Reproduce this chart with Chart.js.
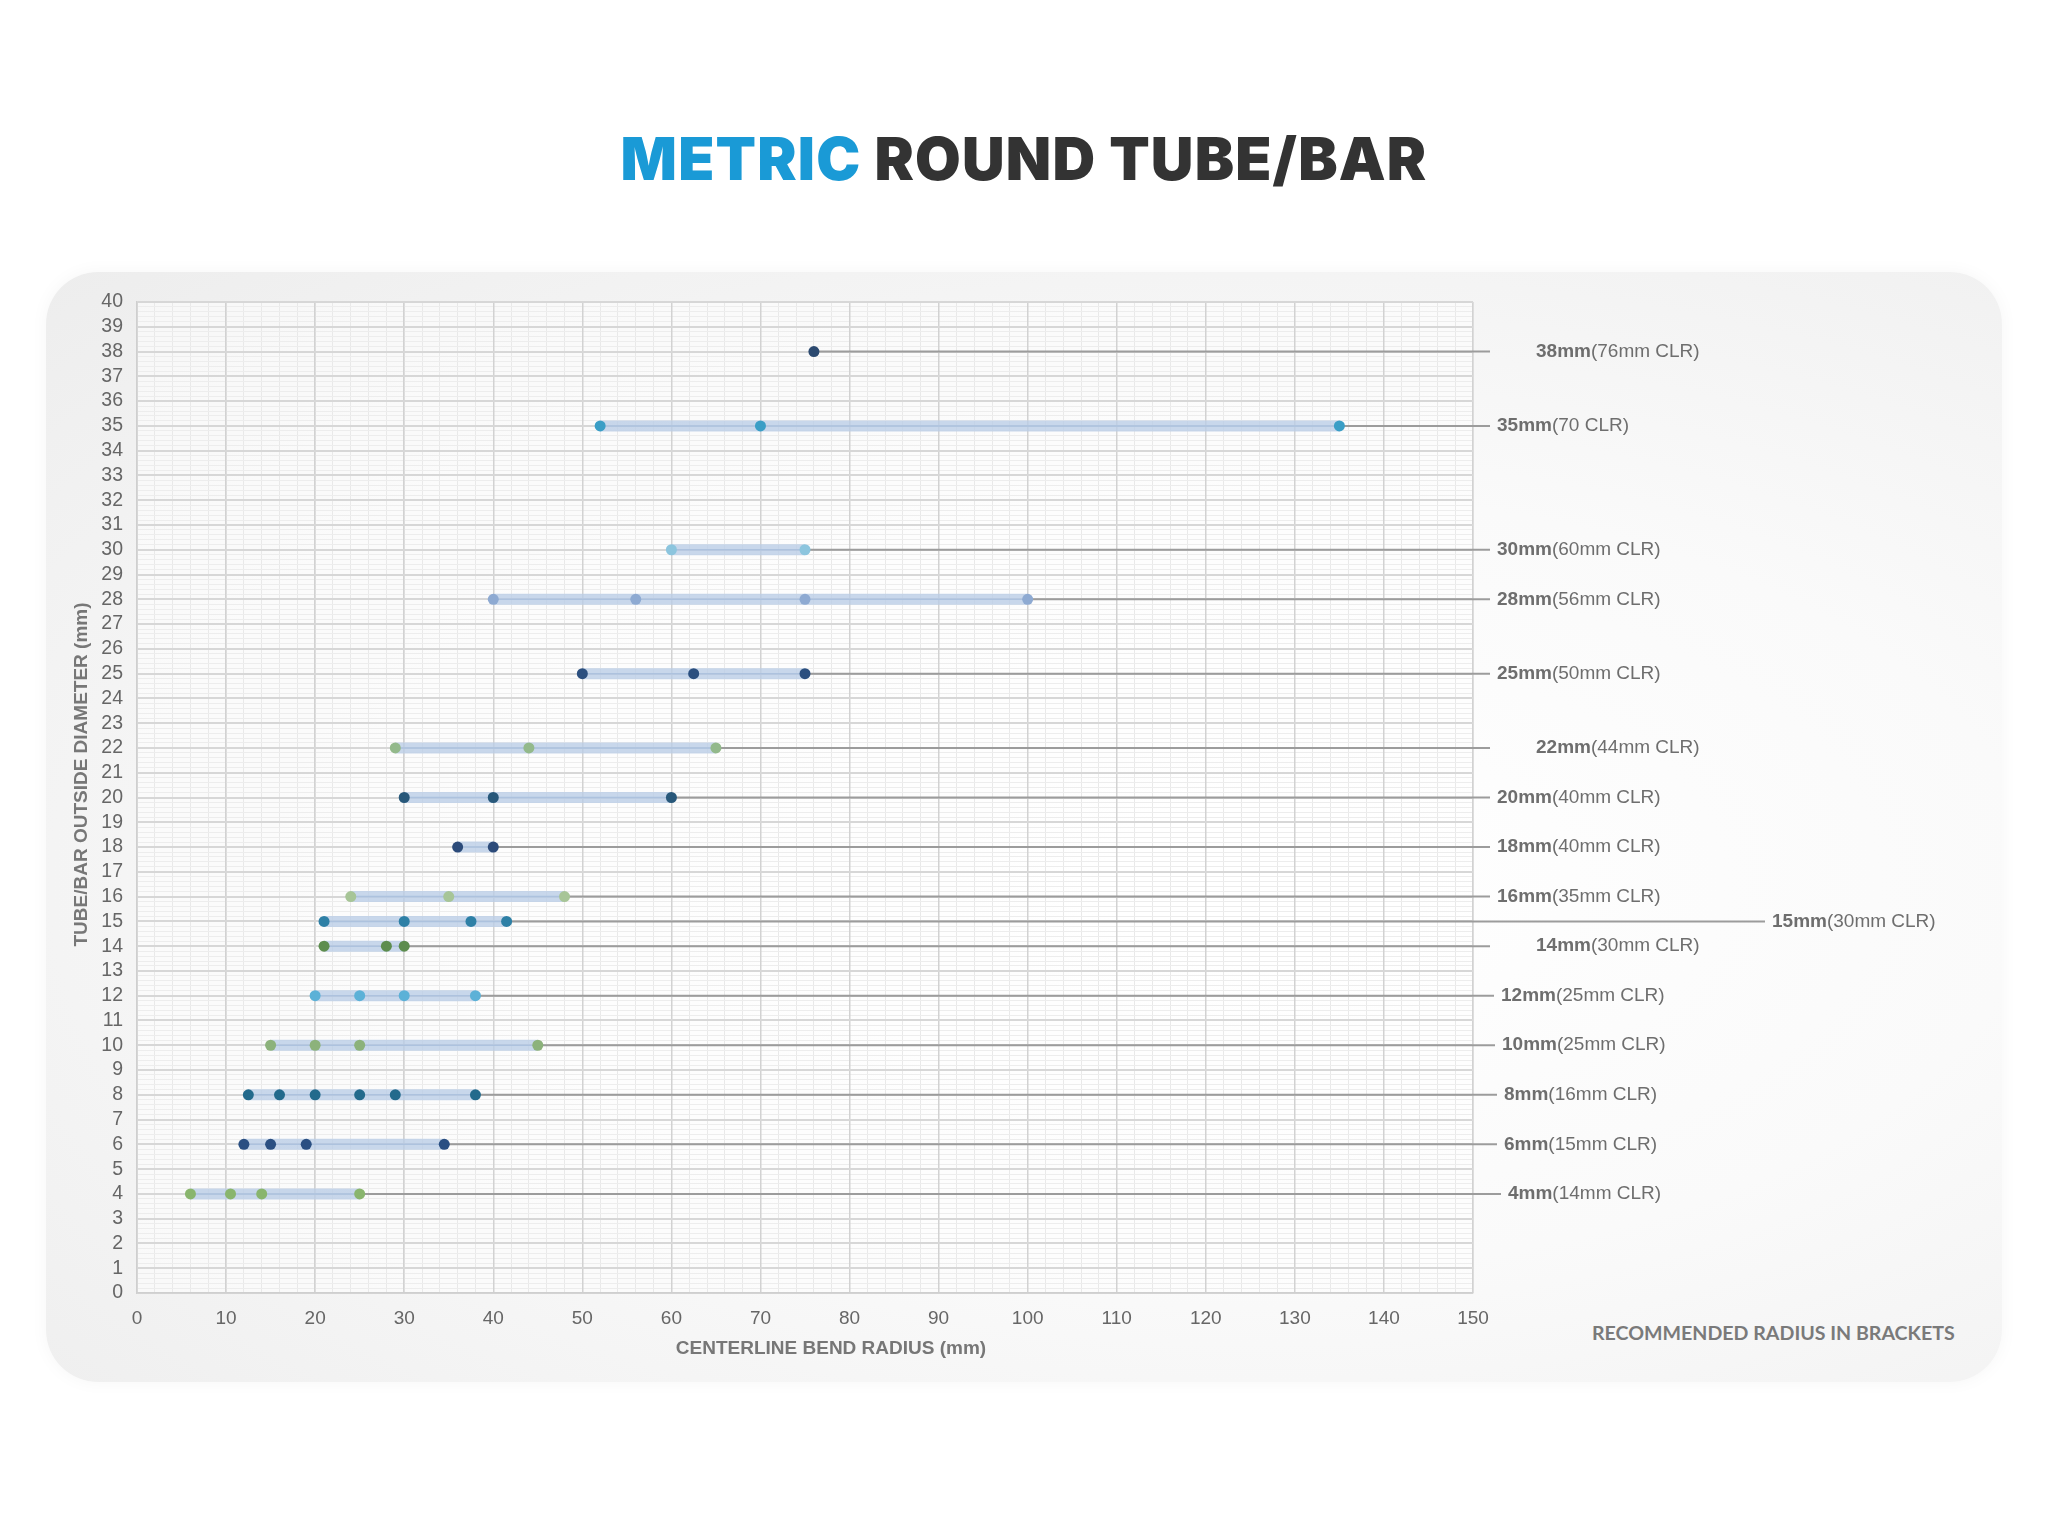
<!DOCTYPE html>
<html lang="en">
<head>
    <meta charset="UTF-8">
    <title>Metric Round Tube/Bar</title>
    <script src="https://cdn.jsdelivr.net/npm/chart.js"></script>
    <style>
        body { margin: 0; background: #fff; }
        #wrap { position: relative; width: 2048px; height: 1536px; overflow: hidden; }
        #panel {
            position: absolute; left: 46px; top: 272px; width: 1956px; height: 1110px;
            border-radius: 52px;
            background: radial-gradient(ellipse at 62% 55%, #ffffff 0%, #fafafa 45%, #ededed 100%);
            box-shadow: 0 0 18px rgba(0,0,0,0.04);
        }
        #title {
            position: absolute; left: 0; width: 2048px; top: 119px; text-align: center;
            font-family: Inter, Lato, "DejaVu Sans", sans-serif; font-weight: 900; font-size: 59px;
            color: #333; letter-spacing: 1.2px; line-height: 80px;
        }
        #title span { color: #1a9ad6; }
        #note {
            position: absolute; left: 1592px; top: 1321px;
            font-family: Lato, sans-serif; font-weight: 700; font-size: 19.6px; color: #7a7a7a;
        }
        canvas { position: absolute; left: 0; top: 0; }
    </style>
</head>
<body>
<div id="wrap">
    <div id="panel"></div>
    <div id="title"><span>METRIC</span> ROUND TUBE/BAR</div>
    <div id="note">RECOMMENDED RADIUS IN BRACKETS</div>
    <canvas id="chart" width="2048" height="1536"></canvas>
</div>
<script>
    // tube outside diameter (mm), top row first
    const diameters = [38, 35, 30, 28, 25, 22, 20, 18, 16, 15, 14, 12, 10, 8, 6, 4];
    // available centerline bend radii for each diameter (mm)
    const radii = [
        [76],
        [52, 70, 135],
        [60, 75],
        [40, 56, 75, 100],
        [50, 62.5, 75],
        [29, 44, 65],
        [30, 40, 60],
        [36, 40],
        [24, 35, 48],
        [21, 30, 37.5, 41.5],
        [21, 28, 30],
        [20, 25, 30, 38],
        [15, 20, 25, 45],
        [12.5, 16, 20, 25, 29, 38],
        [12, 15, 19, 34.5],
        [6, 10.5, 14, 25]
    ];
    const recommended = ['(76mm CLR)', '(70 CLR)', '(60mm CLR)', '(56mm CLR)', '(50mm CLR)', '(44mm CLR)',
        '(40mm CLR)', '(40mm CLR)', '(35mm CLR)', '(30mm CLR)', '(30mm CLR)', '(25mm CLR)',
        '(25mm CLR)', '(16mm CLR)', '(15mm CLR)', '(14mm CLR)'];
    const dotColors = ['#2c4a70', '#3a9ec6', '#8cc5de', '#8eaad2', '#2b4f7f', '#93b98b', '#28587a', '#2c4b7a',
        '#a7c597', '#2e80a6', '#5d8d4e', '#5cb1d7', '#8cb27b', '#236a8c', '#2a4f82', '#89b56d'];

    const xTicksMax = 150;
    const yTicksMax = 40;
    const xTitle = 'CENTERLINE BEND RADIUS (mm)';
    const yTitle = 'TUBE/BAR OUTSIDE DIAMETER (mm)';

    const FONT = '"Liberation Sans", Arial, sans-serif';

    const datasets = [];
    diameters.forEach((d, i) => {
        const xs = radii[i];
        datasets.push({
            data: [{ x: Math.min(...xs), y: d }, { x: Math.max(...xs), y: d }],
            borderColor: 'rgba(186,205,230,0.8)',
            borderWidth: 11,
            borderCapStyle: 'butt',
            pointRadius: 0,
            order: 2
        });
        datasets.push({
            data: xs.map(x => ({ x, y: d })),
            borderColor: '#adc2de',
            borderWidth: 1.5,
            pointRadius: 5.5,
            pointBackgroundColor: dotColors[i],
            pointBorderWidth: 0,
            order: 1
        });
    });

    // where the right-hand labels sit, relative to the plot edge
    const labelShift = { 38: 39, 22: 39, 14: 39, 15: 275, 12: 4, 10: 5, 8: 7, 6: 7, 4: 11 };

    const plotBg = {
        id: 'plotBg',
        beforeDraw(chart) {
            const { ctx, chartArea: a } = chart;
            ctx.save();
            ctx.fillStyle = 'rgba(255,255,255,0.55)';
            ctx.fillRect(a.left, a.top, a.right - a.left, a.bottom - a.top);
            ctx.restore();
        }
    };

    const leaders = {
        id: 'leaders',
        beforeDatasetsDraw(chart) {
            const { ctx, chartArea: a, scales } = chart;
            ctx.save();
            ctx.strokeStyle = '#9c9c9c';
            ctx.lineWidth = 2;
            diameters.forEach((d, i) => {
                const y = scales.y.getPixelForValue(d);
                const x0 = scales.x.getPixelForValue(Math.max(...radii[i]));
                const s = labelShift[d] || 0;
                const x1 = a.right + 17 + (d === 15 ? 275 : (s > 20 ? 0 : s));
                ctx.beginPath();
                ctx.moveTo(x0, y);
                ctx.lineTo(x1, y);
                ctx.stroke();
            });
            ctx.restore();
        },
        afterDraw(chart) {
            const { ctx, chartArea: a, scales } = chart;
            ctx.save();
            ctx.fillStyle = '#6e6e6e';
            ctx.textBaseline = 'middle';
            diameters.forEach((d, i) => {
                const y = scales.y.getPixelForValue(d);
                let x = a.right + 24 + (labelShift[d] || 0);
                const bold = d + 'mm';
                ctx.font = 'bold 19px ' + FONT;
                ctx.fillText(bold, x, y);
                x += ctx.measureText(bold).width;
                ctx.font = '19px ' + FONT;
                ctx.fillText(recommended[i], x, y);
            });
            // axis titles, placed as in the original sheet
            ctx.fillStyle = '#777';
            ctx.font = 'bold 19px ' + FONT;
            ctx.textAlign = 'center';
            ctx.fillText(xTitle, (a.left + a.right) / 2 + 26, a.bottom + 56);
            ctx.translate(a.left - 55, (a.top + a.bottom) / 2 - 23);
            ctx.rotate(-Math.PI / 2);
            ctx.fillText(yTitle, 0, 0);
            ctx.restore();
        }
    };

    const ctx = document.getElementById('chart').getContext('2d');
    new Chart(ctx, {
        type: 'line',
        data: { datasets },
        options: {
            responsive: false,
            devicePixelRatio: 1,
            animation: false,
            layout: { padding: { left: 60, right: 575, top: 302, bottom: 173 } },
            plugins: { legend: { display: false }, tooltip: { enabled: false } },
            scales: {
                xMinor: {
                    type: 'linear', position: 'bottom', min: 0, max: xTicksMax, z: -1,
                    ticks: { display: false, stepSize: 2, autoSkip: false },
                    grid: { color: '#e9e9e9', lineWidth: 1, drawTicks: false },
                    border: { display: false },
                    afterFit(s) { s.height = 0; }
                },
                yMinor: {
                    type: 'linear', position: 'left', min: 0, max: yTicksMax, z: -1,
                    ticks: { display: false, stepSize: 0.2, autoSkip: false },
                    grid: { color: '#ededed', lineWidth: 1, drawTicks: false },
                    border: { display: false },
                    afterFit(s) { s.width = 0; }
                },
                x: {
                    type: 'linear', position: 'bottom', min: 0, max: xTicksMax,
                    ticks: { stepSize: 10, color: '#666', padding: 14, font: { family: FONT, size: 19 } },
                    grid: { color: '#d2d2d2', lineWidth: 1.5, drawTicks: false },
                    border: { color: '#cfcfcf', width: 1.5 },
                    afterFit(s) { s.height = 70; }
                },
                y: {
                    type: 'linear', min: 0, max: yTicksMax,
                    ticks: { stepSize: 1, color: '#666', padding: 14, autoSkip: false, font: { family: FONT, size: 19.5 } },
                    grid: { color: '#d7d7d7', lineWidth: 2, drawTicks: false },
                    border: { color: '#cfcfcf', width: 1.5 },
                    afterFit(s) { s.width = 77; }
                }
            }
        },
        plugins: [plotBg, leaders]
    });
</script>
</body>
</html>
